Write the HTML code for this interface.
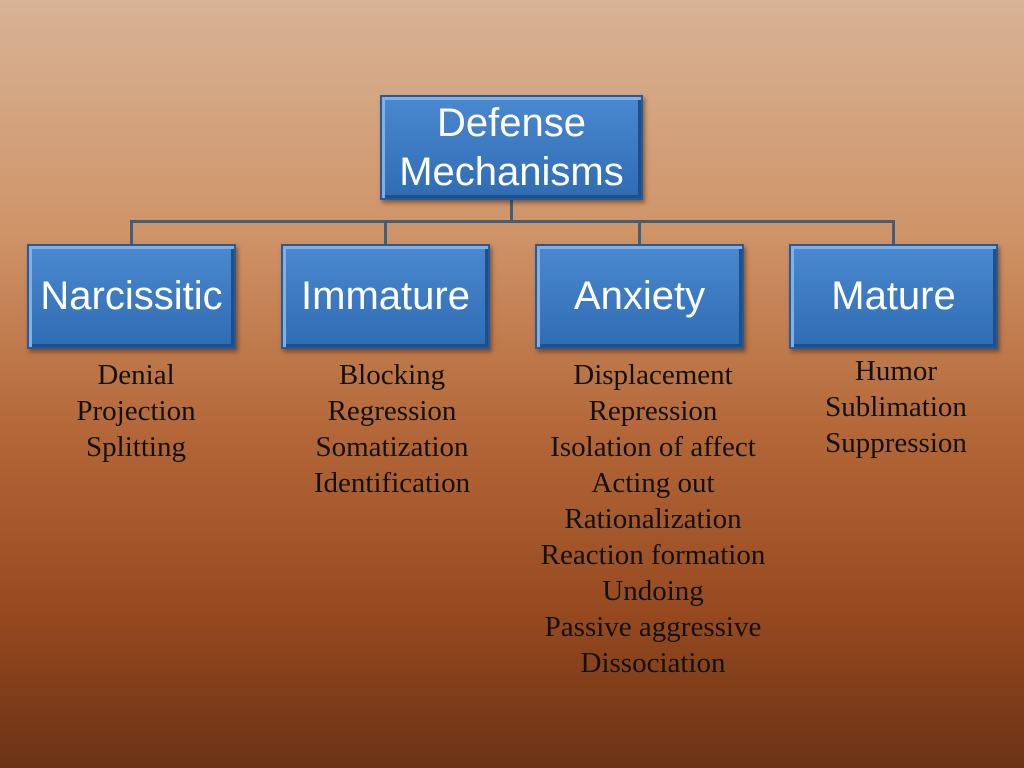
<!DOCTYPE html>
<html><head><style>
html,body{margin:0;padding:0}
body{width:1024px;height:768px;position:relative;overflow:hidden;
background:linear-gradient(to bottom,#d8b396 0%,#cf9468 30%,#b5693a 55%,#96491f 80%,#6b3316 100%);
font-family:"Liberation Sans",sans-serif}
.box{position:absolute;box-sizing:border-box;background:linear-gradient(to bottom,#4a88cf,#2f6cb3);
border:2px solid #2a5a93;box-shadow:inset 3px 3px 0 #7fb0e6,inset -3px -3px 0 #1f4f8a,2px 3px 4px rgba(60,30,10,.5);
color:#fff;display:flex;align-items:center;justify-content:center;text-align:center;font-size:40px;line-height:49px}
.line{position:absolute;background:#3f5f7a}
.list{position:absolute;width:280px;text-align:center;font-family:"Liberation Serif",serif;font-size:29px;line-height:36px;color:#111}
</style></head><body>
<div class="line" style="left:510px;top:199px;width:3px;height:24px"></div>
<div class="line" style="left:130px;top:220px;width:765px;height:3px"></div>
<div class="line" style="left:130px;top:220px;width:3px;height:25px"></div>
<div class="line" style="left:384px;top:220px;width:3px;height:25px"></div>
<div class="line" style="left:638px;top:220px;width:3px;height:25px"></div>
<div class="line" style="left:892px;top:220px;width:3px;height:25px"></div>
<div class="box" style="left:380px;top:95px;width:263px;height:105px">Defense<br>Mechanisms</div>
<div class="box" style="left:27px;top:244px;width:209px;height:105px">Narcissitic</div>
<div class="box" style="left:281px;top:244px;width:209px;height:105px">Immature</div>
<div class="box" style="left:535px;top:244px;width:209px;height:105px">Anxiety</div>
<div class="box" style="left:789px;top:244px;width:209px;height:105px">Mature</div>
<div class="list" style="left:-4px;top:357px">Denial<br>Projection<br>Splitting</div>
<div class="list" style="left:252px;top:357px">Blocking<br>Regression<br>Somatization<br>Identification</div>
<div class="list" style="left:513px;top:357px">Displacement<br>Repression<br>Isolation of affect<br>Acting out<br>Rationalization<br>Reaction formation<br>Undoing<br>Passive aggressive<br>Dissociation</div>
<div class="list" style="left:756px;top:353px">Humor<br>Sublimation<br>Suppression</div>
</body></html>
